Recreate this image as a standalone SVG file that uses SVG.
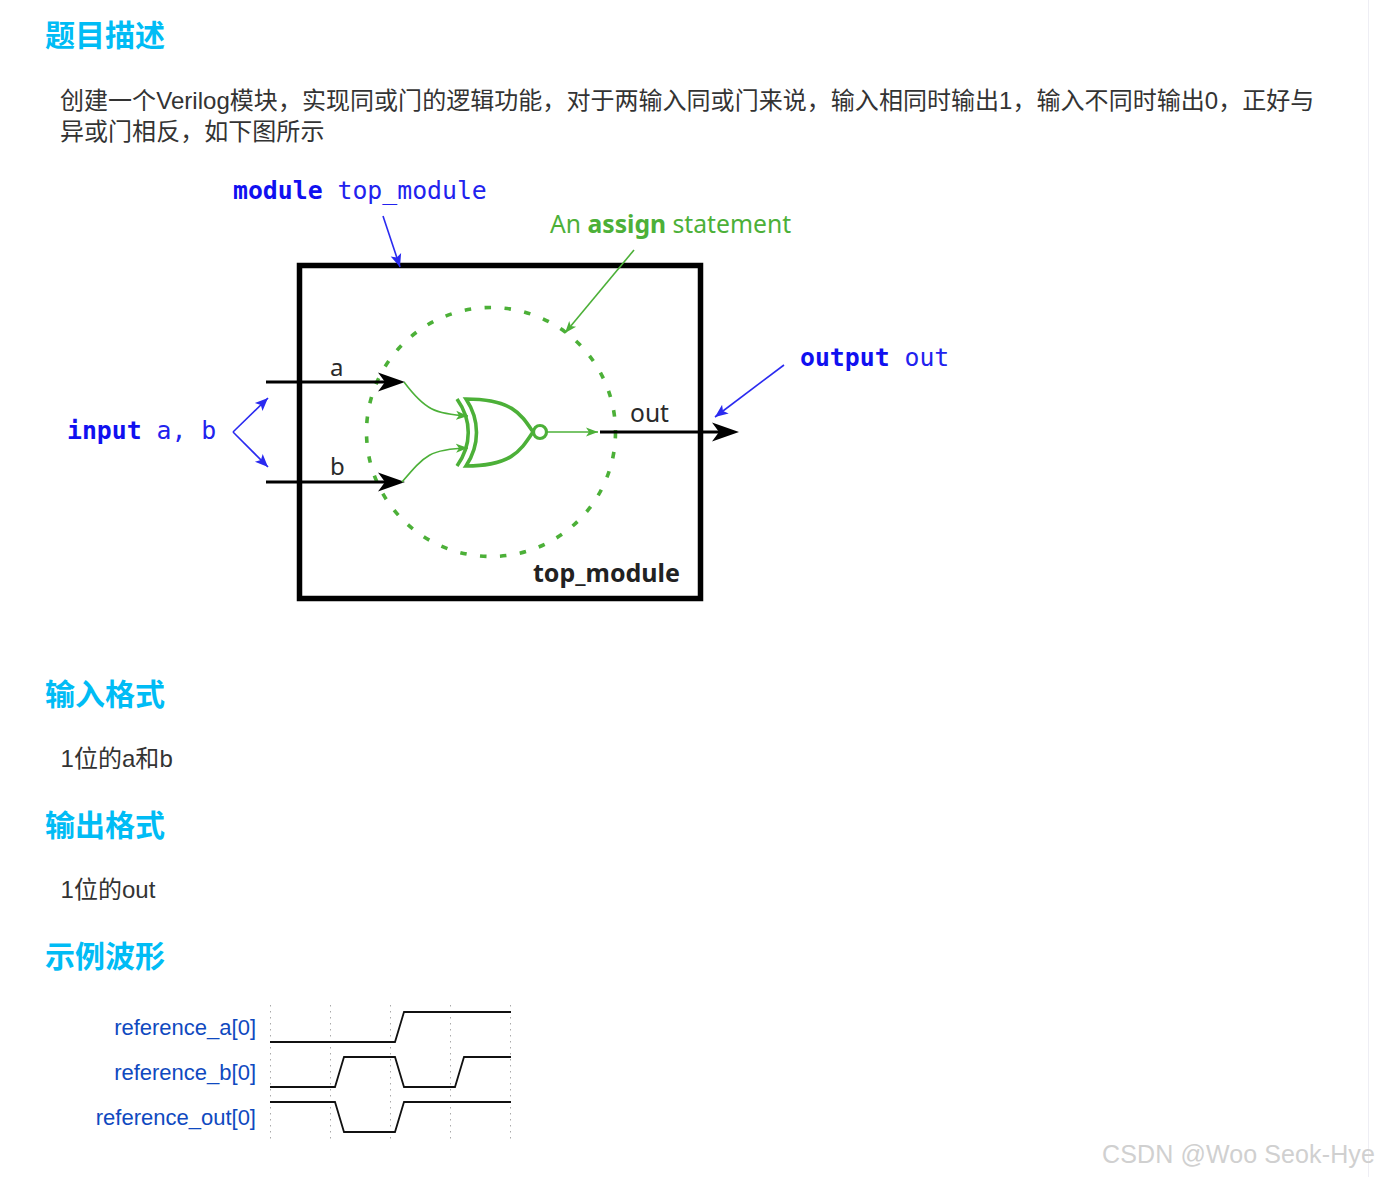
<svg xmlns="http://www.w3.org/2000/svg" width="1378" height="1177" viewBox="0 0 1378 1177">
<style>
text{white-space:pre}
.h{font:bold 30px "Liberation Sans","Noto Sans CJK SC",sans-serif;fill:#00bcf5}
.b{font:24px "Liberation Sans","Noto Sans CJK SC",sans-serif;fill:#333;letter-spacing:.04px}
.m{font:24.8px "DejaVu Sans Mono",monospace;fill:#2222ee}
.mb{font-weight:bold;fill:#1010f0}
.g{font:24.7px "Noto Sans",sans-serif;fill:#4cb038}
.l{font:24px "Noto Sans",sans-serif;fill:#2a2a2a}
.w{font:22px "Liberation Sans",sans-serif;fill:#0f49c0;text-anchor:end}
.wave{fill:none;stroke:#111;stroke-width:1.8}
.grid{stroke:#aaa;stroke-width:1;stroke-dasharray:1.5 4.5}
.blk{stroke:#000;stroke-width:3;fill:none}
.grn{stroke:#4cb038;fill:none;stroke-width:1.6}
.blu{stroke:#2a2af0;stroke-width:1.6;fill:none}
</style>
<defs>
<marker id="ab" markerUnits="userSpaceOnUse" markerWidth="30" markerHeight="24" refX="8" refY="12" orient="auto"><path d="M0 2.500L27 12L0 21.500L7 12Z" fill="#000"/></marker>
<marker id="ag" markerUnits="userSpaceOnUse" markerWidth="14" markerHeight="12" refX="12" refY="6" orient="auto"><path d="M0 1.500L12 6L0 10.500L3 6Z" fill="#4cb038"/></marker>
<marker id="au" markerUnits="userSpaceOnUse" markerWidth="16" markerHeight="14" refX="13" refY="7" orient="auto"><path d="M0 1.500L13 7L0 12.500L3 7Z" fill="#2a2af0"/></marker>
</defs>
<rect width="1378" height="1177" fill="#fff"/>
<line x1="1368.5" y1="0" x2="1368.5" y2="1177" stroke="#eeeef4"/>

<g id="heading-description"><text class="h" x="45" y="46">题目描述</text></g>
<g id="description"><text class="b" x="60" y="109">创建一个Verilog模块，实现同或门的逻辑功能，对于两输入同或门来说，输入相同时输出1，输入不同时输出0，正好与</text><text class="b" x="60" y="140">异或门相反，如下图所示</text></g>

<g id="module-box"><rect x="299.5" y="265.5" width="401" height="333" fill="none" stroke="#000" stroke-width="5.5"/><text x="533" y="582" style="font:bold 25px 'Noto Sans',sans-serif;fill:#222">top_module</text></g>
<g id="assign-circle"><circle cx="491" cy="432" r="124.5" fill="none" stroke="#4cb038" stroke-width="3.6" stroke-dasharray="6.5 13.5"/></g>
<g id="xnor-gate" fill="none" stroke="#4cb038" stroke-width="3.6">
<path d="M466 399C512 399 521 414 533 432C521 450 512 466 466 466C480 445 480 420 466 399Z"/>
<path d="M457 399C472 420 472 445 457 466"/>
<circle cx="540" cy="432" r="6.500" stroke-width="3.2"/>
</g>

<g id="connectors">
<line class="blk" x1="266" y1="382" x2="386" y2="382" marker-end="url(#ab)"/>
<line class="blk" x1="266" y1="482" x2="386" y2="482" marker-end="url(#ab)"/>
<line class="blk" x1="600" y1="432" x2="720" y2="432" marker-end="url(#ab)"/>
<path class="grn" d="M404 382C425 410 435 414 468 416" marker-end="url(#ag)"/>
<path class="grn" d="M402 482C425 455 430 449 468 448" marker-end="url(#ag)"/>
<path class="grn" d="M547 432L598 432" marker-end="url(#ag)"/>
<path class="grn" d="M634 250L565 333" marker-end="url(#ag)"/>
<path class="blu" d="M383 216L400 267" marker-end="url(#au)"/>
<path class="blu" d="M784 365L715 417" marker-end="url(#au)"/>
<path class="blu" d="M233 432L268 398" marker-end="url(#au)"/>
<path class="blu" d="M233 432L268 467" marker-end="url(#au)"/>
</g>

<g id="labels">
<text class="m" x="233" y="199"><tspan class="mb">module</tspan> top_module</text>
<text class="g" x="550" y="233">An <tspan font-weight="bold">assign</tspan> statement</text>
<text class="m" x="800" y="366"><tspan class="mb">output</tspan> out</text>
<text class="m" x="67" y="439"><tspan class="mb">input</tspan> a, b</text>
<text class="l" x="330" y="376">a</text>
<text class="l" x="330" y="475">b</text>
<text class="l" x="630" y="422" style="font-size:24.600px">out</text>
</g>

<g id="heading-input"><text class="h" x="45" y="705">输入格式</text></g>
<g id="input-text"><text class="b" x="60.500" y="767">1位的a和b</text></g>
<g id="heading-output"><text class="h" x="45" y="836">输出格式</text></g>
<g id="output-text"><text class="b" x="60.500" y="898">1位的out</text></g>
<g id="heading-sample"><text class="h" x="45" y="967">示例波形</text></g>

<g id="waveform">
<path class="grid" d="M270.500 1005V1140M330.500 1005V1140M390.500 1005V1140M450.500 1005V1140M510.500 1005V1140"/>
<path class="wave" d="M270 1042H395L404 1012H511"/>
<path class="wave" d="M270 1087H335L344 1057H395L404 1087H455L464 1057H511"/>
<path class="wave" d="M270 1102H335L344 1132H395L404 1102H511"/>
<text class="w" x="256" y="1035">reference_a[0]</text>
<text class="w" x="256" y="1080">reference_b[0]</text>
<text class="w" x="256" y="1125">reference_out[0]</text>
</g>

<g id="watermark"><text x="1102" y="1163" style="font:25px 'Liberation Sans',sans-serif;fill:#d0d0d0;letter-spacing:.12px">CSDN @Woo Seok-Hye</text></g>
</svg>
